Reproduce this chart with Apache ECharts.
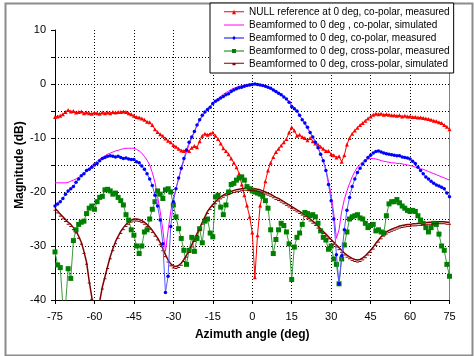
<!DOCTYPE html>
<html>
<head>
<meta charset="utf-8">
<script src="https://cdn.jsdelivr.net/npm/echarts@6/dist/echarts.min.js"></script>
<style>
html,body{margin:0;padding:0;background:#fff;}
#chart{width:474px;height:356px;}
</style>
</head>
<body>
<div id="chart"></div>
<script>
// Azimuth angles (deg), -75..75 step 1
const angles = [];
for (let a = -75; a <= 75; a++) angles.push(a);

const xTicks = [-75, -60, -45, -30, -15, 0, 15, 30, 45, 60, 75];
const yTicks = [10, 0, -10, -20, -30, -40];

const seriesNames = [
  'NULL reference at 0 deg, co-polar, measured',
  'Beamformed to 0 deg , co-polar, simulated',
  'Beamformed to 0 deg, co-polar, measured',
  'Beamformed to 0 deg, cross-polar, measured',
  'Beamformed to 0 deg, cross-polar, simulated'
];

const nullRefMeasured = [
-6.1,-6.0,-5.9,-5.6,-5.2,-4.8,-5.1,-5.0,-5.3,-5.2,
-5.1,-5.4,-5.3,-5.4,-5.5,-5.3,-5.4,-5.5,-5.3,-5.4,
-5.3,-5.4,-5.2,-5.3,-5.2,-5.2,-5.1,-5.2,-5.4,-5.6,
-5.9,-6.1,-6.2,-6.4,-6.6,-7.0,-7.1,-7.6,-8.4,-8.9,
-9.3,-9.6,-10.1,-10.5,-10.8,-11.3,-11.6,-12.0,-12.3,-12.4,
-12.2,-12.4,-11.8,-11.5,-11.7,-10.6,-9.6,-9.2,-9.4,-9.2,
-9.0,-9.6,-10.2,-11.0,-11.9,-12.4,-13.0,-13.8,-14.6,-15.4,
-16.6,-18.6,-20.6,-22.5,-24.6,-27.5,-35.8,-28.0,-22.5,-20.4,
-18.0,-16.0,-14.6,-13.5,-12.6,-12.0,-11.4,-10.8,-10.2,-9.0,
-8.0,-8.6,-9.6,-9.4,-9.8,-10.0,-10.4,-10.0,-10.6,-11.0,
-11.2,-11.6,-12.0,-12.4,-12.4,-13.0,-13.2,-13.6,-13.4,-14.4,
-13.2,-11.2,-10.0,-9.2,-8.6,-8.1,-7.6,-7.2,-6.8,-6.4,
-6.0,-5.7,-5.5,-5.6,-5.5,-5.7,-5.6,-5.7,-5.8,-5.8,
-5.9,-5.8,-6.0,-5.9,-6.0,-6.0,-6.1,-6.1,-6.2,-6.2,
-6.3,-6.4,-6.5,-6.6,-6.8,-6.9,-7.1,-7.2,-7.6,-7.9,
-8.4
];

const coSimulated = [
-18.3,-18.3,-18.3,-18.3,-18.3,-18.2,-18.0,-17.8,-17.6,-17.3,
-17.0,-16.6,-16.1,-15.6,-15.1,-14.7,-14.3,-13.9,-13.6,-13.3,
-13.0,-12.8,-12.6,-12.4,-12.3,-12.1,-12.0,-11.9,-11.9,-11.9,
-11.9,-12.1,-12.4,-12.8,-13.4,-14.1,-15.0,-16.4,-18.2,-20.8,
-23.6,-27.0,-31.0,-27.2,-23.6,-21.2,-19.4,-17.6,-15.8,-14.2,
-12.6,-11.2,-10.0,-8.8,-7.7,-6.8,-6.0,-5.3,-4.7,-4.1,
-3.6,-3.1,-2.7,-2.3,-1.9,-1.6,-1.3,-1.0,-0.8,-0.6,
-0.4,-0.3,-0.2,-0.1,0.0,0.0,0.0,-0.1,-0.2,-0.3,
-0.4,-0.6,-0.8,-1.0,-1.3,-1.6,-1.9,-2.3,-2.7,-3.2,
-3.8,-4.4,-5.1,-5.8,-6.6,-7.4,-8.2,-9.0,-9.8,-10.6,
-11.8,-13.0,-14.2,-15.8,-18.0,-20.6,-24.0,-28.6,-27.0,-23.6,
-21.4,-19.8,-18.4,-17.2,-16.2,-15.4,-14.9,-14.4,-14.1,-13.9,
-13.8,-13.8,-13.9,-14.0,-14.2,-14.3,-14.4,-14.5,-14.6,-14.6,
-14.7,-14.7,-14.8,-14.9,-15.0,-15.1,-15.2,-15.4,-15.5,-15.7,
-15.8,-16.0,-16.2,-16.4,-16.6,-16.8,-17.0,-17.2,-17.4,-17.6,
-17.8
];

const coMeasured = [
-22.6,-22.2,-21.8,-21.2,-20.4,-19.8,-19.4,-19.0,-18.2,-17.6,
-17.0,-16.6,-16.0,-15.8,-15.4,-15.0,-14.7,-14.2,-13.8,-13.6,
-13.4,-13.3,-13.4,-13.5,-13.4,-13.6,-13.8,-13.7,-13.9,-14.0,
-14.0,-14.4,-14.6,-15.2,-15.8,-16.6,-17.6,-18.8,-20.6,-22.6,
-25.2,-29.6,-38.6,-35.6,-26.4,-21.8,-19.4,-17.4,-15.6,-13.8,
-12.2,-10.8,-9.8,-8.8,-7.6,-6.6,-5.8,-5.2,-4.7,-4.3,
-3.6,-3.2,-2.9,-2.6,-2.3,-2.0,-1.8,-1.4,-1.1,-0.9,
-0.7,-0.6,-0.4,-0.3,-0.2,-0.1,0.0,-0.1,-0.2,-0.3,
-0.4,-0.6,-0.8,-1.1,-1.4,-1.7,-2.0,-2.4,-2.8,-3.4,
-4.2,-4.6,-5.0,-5.8,-6.6,-7.2,-8.0,-9.0,-9.8,-10.8,
-11.8,-13.0,-14.2,-16.0,-18.6,-21.6,-25.0,-31.6,-37.0,-31.8,
-27.0,-23.4,-21.0,-19.0,-17.6,-16.4,-15.6,-14.8,-14.2,-13.6,
-13.2,-12.8,-12.5,-12.4,-12.6,-12.8,-12.9,-13.0,-13.1,-13.2,
-13.3,-13.3,-13.5,-13.6,-13.7,-13.9,-14.3,-14.7,-15.4,-16.0,
-16.6,-17.2,-17.6,-18.0,-18.4,-18.7,-18.9,-19.1,-19.4,-20.2,
-20.9
];

const crossMeasured = [
-31.1,-33.5,-34.0,-41.0,-41.0,-34.2,-36.0,-29.0,-27.0,-26.0,
-25.6,-25.4,-24.0,-23.0,-22.6,-23.2,-21.8,-21.0,-20.8,-19.6,
-19.5,-19.8,-20.4,-20.2,-21.0,-21.6,-22.4,-24.2,-25.2,-27.0,
-28.0,-30.0,-31.4,-30.0,-27.4,-27.0,-25.0,-23.2,-21.8,-19.8,
-20.4,-21.2,-19.6,-19.4,-20.0,-22.4,-24.6,-26.8,-28.6,-30.8,
-33.4,-30.8,-28.4,-31.0,-28.6,-26.8,-29.4,-25.4,-25.0,-27.6,
-28.3,-20.9,-20.6,-22.8,-24.2,-22.4,-20.0,-18.6,-18.4,-17.8,
-17.4,-17.2,-17.8,-19.0,-19.4,-19.8,-20.0,-20.2,-20.4,-20.8,
-21.6,-23.0,-27.0,-31.4,-28.8,-27.0,-25.8,-26.2,-27.4,-29.6,
-36.2,-30.2,-28.4,-27.6,-26.0,-23.8,-24.0,-24.4,-24.2,-24.6,
-25.8,-27.2,-28.4,-28.9,-30.6,-30.0,-32.4,-33.4,-37.0,-32.4,
-29.8,-27.4,-25.0,-24.6,-24.4,-24.2,-24.8,-25.0,-25.8,-26.6,
-26.2,-26.0,-27.2,-27.0,-27.4,-27.6,-24.4,-22.2,-21.8,-21.8,
-21.4,-22.0,-22.6,-23.0,-23.4,-23.6,-23.4,-23.6,-24.4,-25.2,
-25.8,-26.6,-27.4,-26.6,-25.8,-26.0,-27.8,-30.0,-30.8,-33.4,
-35.6
];

const crossSimulated = [
-23.0,-23.5,-24.1,-24.6,-25.1,-25.6,-26.0,-26.6,-27.2,-28.2,
-29.3,-31.0,-33.0,-36.5,-39.5,-46.0,-47.0,-40.2,-37.6,-35.7,
-33.8,-32.0,-30.5,-29.2,-28.2,-27.3,-26.6,-26.0,-25.6,-25.2,
-25.0,-25.0,-25.1,-25.3,-25.6,-26.0,-26.5,-27.1,-27.8,-28.5,
-29.4,-30.5,-31.6,-32.6,-33.3,-33.7,-33.8,-33.6,-33.2,-32.5,
-31.7,-30.8,-29.8,-28.8,-27.7,-26.7,-25.6,-24.6,-23.6,-22.9,
-22.3,-21.8,-21.3,-20.9,-20.6,-20.3,-20.1,-19.9,-19.7,-19.6,
-19.5,-19.4,-19.3,-19.3,-19.3,-19.3,-19.4,-19.5,-19.6,-19.8,
-20.0,-20.2,-20.4,-20.7,-21.0,-21.2,-21.5,-21.8,-22.1,-22.4,
-22.7,-23.0,-23.3,-23.6,-23.9,-24.2,-24.6,-25.0,-25.4,-25.8,
-26.3,-26.8,-27.3,-27.8,-28.3,-28.8,-29.3,-29.8,-30.3,-30.8,
-31.3,-31.7,-32.0,-32.3,-32.5,-32.6,-32.5,-32.2,-31.8,-31.3,
-30.8,-30.2,-29.5,-28.9,-28.3,-27.8,-27.4,-27.1,-26.9,-26.7,
-26.5,-26.3,-26.2,-26.1,-26.0,-26.0,-25.9,-25.9,-25.8,-25.8,
-25.7,-25.7,-25.6,-25.6,-25.5,-25.5,-25.5,-25.5,-25.5,-25.6,
-25.6
];

function pairs(vals) { return angles.map((a, i) => [a, vals[i]]); }

// Legend icons: a short line with a small marker, drawn in a 20x10 box
const LINE = 'M0,4.5H20V5.5H0Z';
const legendIcons = [
  'path://' + LINE + 'M8,7.5L10,3L12,7.5Z',
  'path://' + LINE + 'M0,0.01H0.01V0Z M0,9.99H0.01V10Z',
  'path://' + LINE + 'M10,3L12,5L10,7L8,5Z',
  'path://' + LINE + 'M8,3H12V7H8Z',
  'path://' + LINE + 'M8.5,5H11.5V7H8.5Z'
];

const FONT = '"Liberation Sans", Arial, sans-serif';
const chart = echarts.init(document.getElementById('chart'), null, {renderer: 'canvas'});

chart.setOption({
  animation: false,
  backgroundColor: '#fff',
  textStyle: {fontFamily: FONT},
  graphic: [{
    type: 'rect', left: 3, top: 1, z: -1,
    shape: {width: 467, height: 352},
    style: {fill: 'none', stroke: '#8c8c8c', lineWidth: 2}
  }],
  grid: {left: 55, right: 24.5, top: 30, bottom: 56, containLabel: false},
  legend: {
    orient: 'vertical', left: 210, top: 3,
    backgroundColor: '#fff', borderColor: '#000', borderWidth: 1,
    padding: [4, 4, 4, 14], itemGap: 3, itemWidth: 20, itemHeight: 10,
    symbolKeepAspect: true,
    textStyle: {fontSize: 10, color: '#000', fontFamily: FONT},
    data: seriesNames.map((n, i) => ({name: n, icon: legendIcons[i]}))
  },
  xAxis: {
    type: 'value', min: -75, max: 75, interval: 15,
    name: 'Azimuth angle (deg)', nameLocation: 'middle', nameGap: 29,
    nameMoveOverlap: false,
    nameTextStyle: {fontSize: 12, fontWeight: 'bold', color: '#000', fontFamily: FONT},
    axisLine: {show: true, onZero: false, lineStyle: {color: '#000', width: 1}},
    axisTick: {show: true, length: 4, lineStyle: {color: '#000'}},
    axisLabel: {fontSize: 11, color: '#000', margin: 11, fontFamily: FONT,
      customValues: xTicks},
    splitLine: {show: true, showMinLine: false, showMaxLine: false,
      lineStyle: {color: '#000', type: [1, 2], width: 1}}
  },
  yAxis: [{
    type: 'value', min: -40, max: 10, interval: 5,
    name: 'Magnitude (dB)', nameLocation: 'middle', nameGap: 29, nameRotate: 90,
    nameMoveOverlap: false,
    nameTextStyle: {fontSize: 12, fontWeight: 'bold', color: '#000', fontFamily: FONT},
    axisLine: {show: true, onZero: false, lineStyle: {color: '#000', width: 1}},
    axisTick: {show: true, length: 4, lineStyle: {color: '#000'}},
    axisLabel: {fontSize: 11, color: '#000', margin: 9, fontFamily: FONT,
      formatter: v => (yTicks.indexOf(v) >= 0 ? String(v) : '')},
    splitLine: {show: true, showMinLine: false, showMaxLine: false,
      lineStyle: {color: '#000', type: [1, 2], width: 1}}
  }, {
    type: 'value', min: -40, max: 10, interval: 5, position: 'right',
    axisLine: {show: true, onZero: false, lineStyle: {color: '#808080', width: 1}},
    axisTick: {show: false}, axisLabel: {show: false}, splitLine: {show: false}
  }],
  series: [
    {
      name: seriesNames[0], type: 'line', data: pairs(nullRefMeasured),
      symbol: 'triangle', symbolSize: 4, showAllSymbol: true,
      lineStyle: {color: '#ff0000', width: 1}, itemStyle: {color: '#ff0000'}, z: 3
    },
    {
      name: seriesNames[1], type: 'line', data: pairs(coSimulated),
      symbol: 'none', lineStyle: {color: '#ff00ff', width: 1}, itemStyle: {color: '#ff00ff'}, z: 2
    },
    {
      name: seriesNames[2], type: 'line', data: pairs(coMeasured),
      symbol: 'circle', symbolSize: 3.5, showAllSymbol: true,
      lineStyle: {color: '#5a5aff', width: 1}, itemStyle: {color: '#0000ff'}, z: 4
    },
    {
      name: seriesNames[3], type: 'line', data: pairs(crossMeasured),
      symbol: 'rect', symbolSize: 5, showAllSymbol: true,
      lineStyle: {color: '#3c9a3c', width: 1}, itemStyle: {color: '#008000'}, z: 3
    },
    {
      name: seriesNames[4], type: 'line', data: pairs(crossSimulated),
      symbol: 'rect', symbolSize: [3, 1], showAllSymbol: true, symbolOffset: [0, 2],
      lineStyle: {color: '#800000', width: 1.5}, itemStyle: {color: '#800000'}, z: 3
    }
  ]
});
</script>
</body>
</html>
